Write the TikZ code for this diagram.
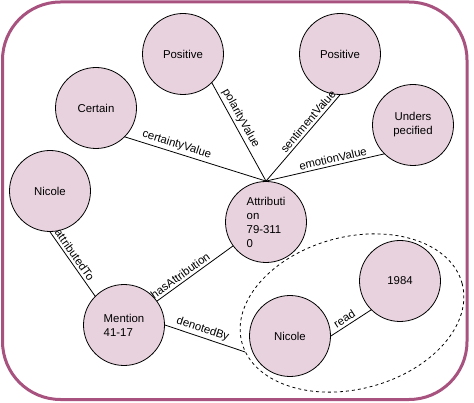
\documentclass[tikz,border=0pt]{standalone}
\usepackage{fontspec}
\setmainfont{Liberation Sans}
\usetikzlibrary{shapes.geometric}
\definecolor{nodepink}{HTML}{E8D2DE}
\definecolor{framepink}{HTML}{A8527F}
\tikzset{
  ent/.style={circle, draw, fill=nodepink, minimum size=81pt, inner sep=0pt,
    font=\fontsize{11.4}{14}\selectfont, align=center},
  rel/.style={font=\fontsize{11.4}{14}\selectfont, sloped, inner sep=2.5pt},
}
\begin{document}
\begin{tikzpicture}[x=1pt, y=-1pt, line width=0.8pt]
    \useasboundingbox (0,0) rectangle (474,403);

    % Frame
    \draw[framepink, line width=3pt, rounded corners=58pt] (2.5,2) rectangle (467,399.5);

    % Group
    \node[draw, dashed, ellipse, rotate=15, minimum width=228pt, minimum height=152pt] (grp) at (352,313) {};

    % Entities
    \node[ent] (pos1) at (183,54) {Positive};
    \node[ent] (pos2) at (340,54) {Positive};
    \node[ent] (cert) at (96,108) {Certain};
    \node[ent] (unsp) at (413,125) {Unders\\pecified};
    \node[ent] (nic1) at (50,191) {Nicole};
    \node[ent, align=left] (attr) at (266,222) {Attributi\\on\\79-311\\0};
    \node[ent, align=left] (ment) at (124,325) {Mention\\41-17};
    \node[ent] (nic2) at (290,336) {Nicole};
    \node[ent] (y1984) at (400,281) {1984};

    % Relations
    \draw (cert.south east) -- node[rel, pos=0.35, above] {certaintyValue} (attr.north);
    \draw (pos1.south east) -- node[rel, pos=0.4, above] {polarityValue} (attr.north);
    \draw (attr.north) -- node[rel, pos=0.64, above] {sentimentValue} (pos2.south);
    \draw (attr.north) -- node[rel, pos=0.58, above] {emotionValue} (unsp.south west);
    \draw (nic1.south) -- node[rel, pos=0.42, above] {attributedTo} (ment.135);
    \draw (ment) -- node[rel, pos=0.36, above] {hasAttribution} (attr);
    \draw (ment.east) -- node[rel, pos=0.44, above] {denotedBy} (grp.185);
    \draw (nic2.east) -- node[rel, pos=0.43, above] {read} (y1984.225);
\end{tikzpicture}
\end{document}
